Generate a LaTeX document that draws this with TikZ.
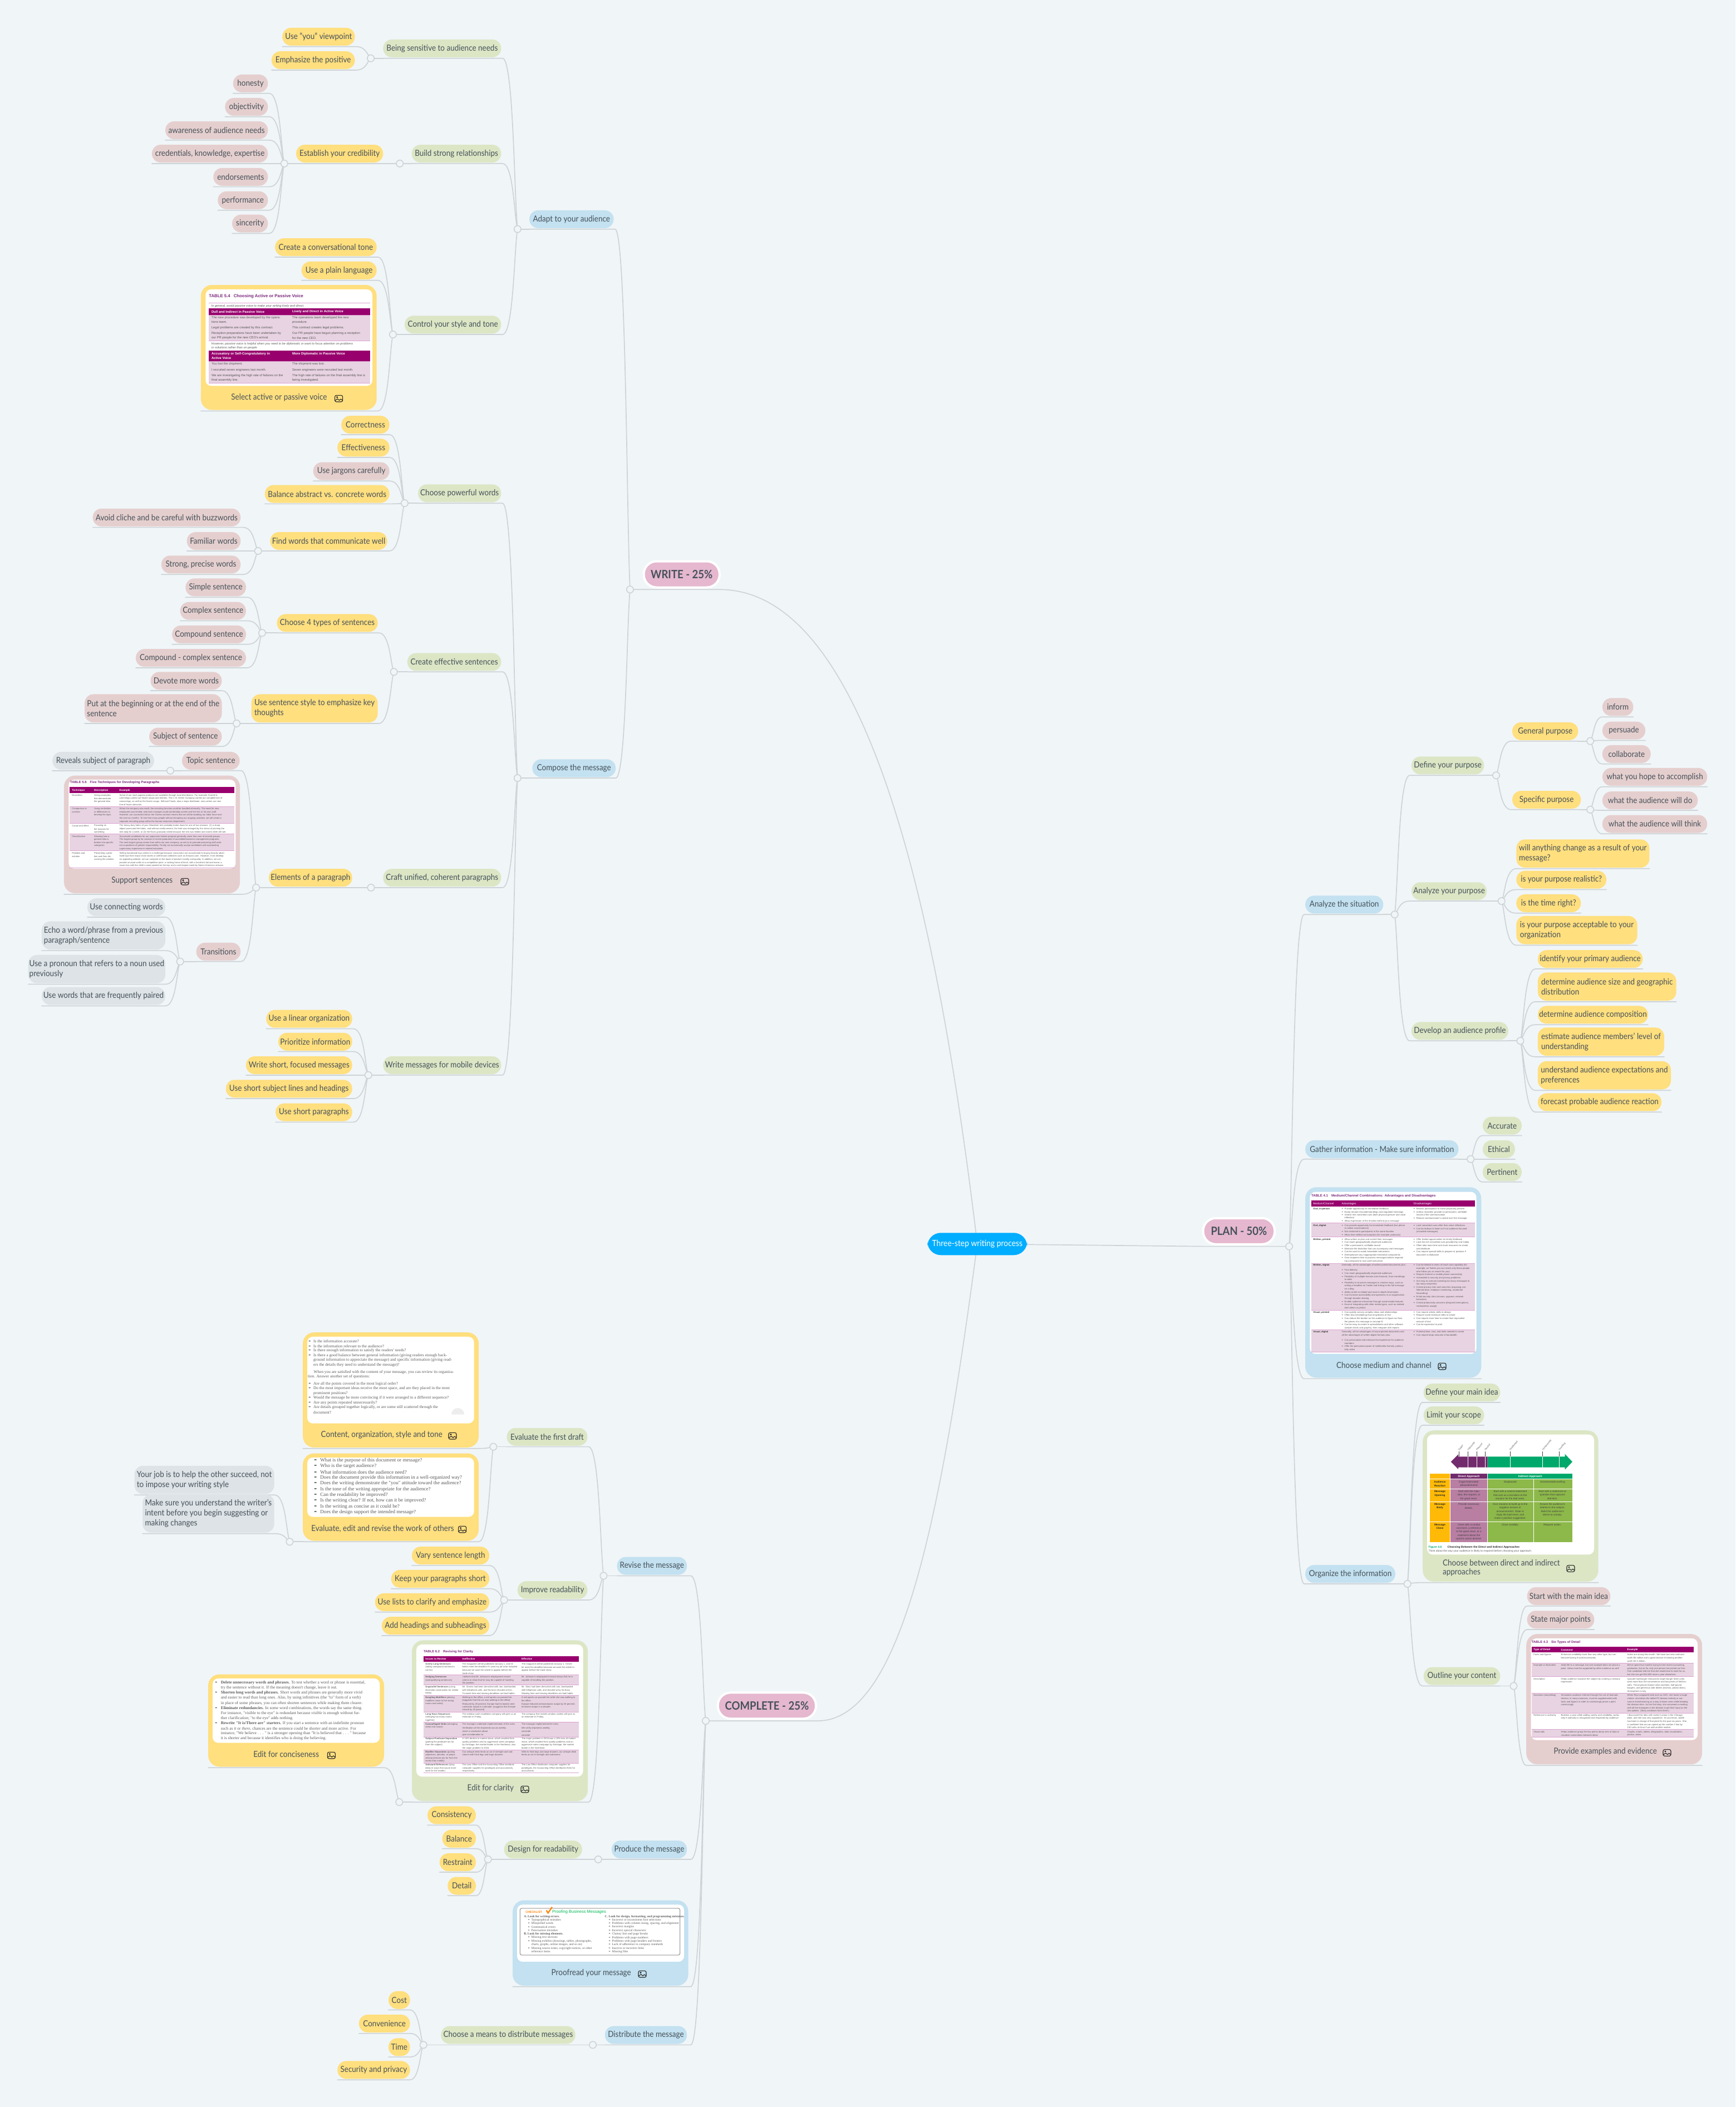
\documentclass[tikz,border=0pt]{standalone}
\usepackage{fontspec}
\usetikzlibrary{calc}
\setmainfont[FakeStretch=0.9]{Lato}
\newfontfamily\lsans{Liberation Sans}
\newfontfamily\lserif{Liberation Serif}
\definecolor{bgc}{HTML}{F0F5F8}
\definecolor{yel}{HTML}{FFDF7E}
\definecolor{grn}{HTML}{DCE6C5}
\definecolor{blu}{HTML}{C3E1F0}
\definecolor{ros}{HTML}{E5CFCE}
\definecolor{gry}{HTML}{DDE3E6}
\definecolor{tpk}{HTML}{E5B8CF}
\definecolor{rootc}{HTML}{00ADFF}
\definecolor{lnc}{HTML}{CDD3D6}
\definecolor{ink}{HTML}{46515A}
\definecolor{mag}{HTML}{98006D}
\definecolor{prow}{HTML}{E8D3E2}
\definecolor{pln}{HTML}{D9A3CE}
\definecolor{ttl}{HTML}{7D2A7E}
\definecolor{txg}{HTML}{5A5A5A}
\definecolor{vio}{HTML}{722B6C}
\definecolor{gn1}{HTML}{00A86B}
\definecolor{gn2}{HTML}{8DB84A}
\definecolor{org}{HTML}{FFBA08}
\definecolor{dpk}{HTML}{B87FA3}
\pgfdeclarelayer{bgr}\pgfdeclarelayer{lines}\pgfsetlayers{bgr,lines,main}
\newcount\tc
\def\tbf{\lsans\fontsize{2}{2.4}\selectfont}
\newdimen\bw \bw=2.5pt
\def\bb{\makebox[\bw][l]{\textbullet\kern-.15em\textbullet}}
\def\nb{\makebox[\bw][l]{}}
\tikzset{
 pill/.style={rectangle,rounded corners=7.9pt,inner sep=0pt,outer sep=0pt,text=ink,align=left,
   font=\fontsize{7.5}{9}\selectfont},
 toppill/.style={rectangle,rounded corners=11.5pt,inner sep=0pt,fill=tpk,draw=white,line width=2pt,text=ink,
   font=\fontsize{10.3}{12}\selectfont\bfseries,minimum height=23.5pt},
 cardst/.style={rectangle,rounded corners=10pt,inner sep=0pt,outer sep=0pt},
 jun/.style={circle,draw=lnc,fill=bgc,line width=.8pt,minimum size=6.2pt,inner sep=0pt},
 conn/.style={draw=lnc,line width=.85pt,line cap=round},
 tt/.style={inner sep=0pt,anchor=west,text=txg},
 wbox/.style={fill=white,rounded corners=5pt},
 zz/.style 2 args={shift={({#1*0.5pt},{-#2*0.5pt})},x=0.166667pt,y=-0.166667pt},
 capt/.style={inner sep=0pt,anchor=west,text=ink,align=left,font=\fontsize{7.5}{8.35}\selectfont},
}
\newcommand\pl[7][13.25]{%
 \node[pill,fill=#3,minimum width={(#5-#4)*1.2076pt},minimum height={#1*1.2076pt}] (#2) at ({(#4+#5)/2},#6) {#7};
 \coordinate (#2ul) at ([yshift=-.9pt]#2.south west);
 \coordinate (#2ur) at ([yshift=-.9pt]#2.south east);}
\newcommand\plt[5]{%
 \node[toppill,minimum width={(#3-#2)*1.2076pt}] (#1) at ({(#2+#3)/2},#4) {#5};
 \coordinate (#1ul) at ([yshift=-.9pt]#1.south west);
 \coordinate (#1ur) at ([yshift=-.9pt]#1.south east);}
\newcommand\cardn[6]{%
 \node[cardst,fill=#2,minimum width={(#5-#3)*1.2076pt},minimum height={(#6-#4)*1.2076pt}] (#1) at ({(#3+#5)/2},{(#4+#6)/2}) {};
 \coordinate (#1ul) at ([yshift=-.9pt]#1.south west);
 \coordinate (#1ur) at ([yshift=-.9pt]#1.south east);}
\newcommand\jn[3]{\node[jun] (#1) at (#2,0 |- #3ur) {};}
\newcommand\cL[2]{\draw[conn] let \p1=(#1ur),\p2=(#2) in (#1ul) -- (\p1) -- ({max(\x1,\x2-13.5pt)},\y1) .. controls (\x2-3.5pt,\y1) and (\x2-3pt,{\y1+0.82*(\y2-\y1)}) .. (\p2);}
\newcommand\cR[2]{\draw[conn] let \p1=(#1ul),\p2=(#2) in (#1ur) -- (\p1) -- ({min(\x1,\x2+13.5pt)},\y1) .. controls (\x2+3.5pt,\y1) and (\x2+3pt,{\y1+0.82*(\y2-\y1)}) .. (\p2);}
\newcommand\tl[4][]{\global\advance\tc 1 \node[tt,#1] (t\the\tc) at (#2,#3) {\tbf #4};}
\newcommand\Col[2]{\foreach \yy/\ttt in {#2}{\tl{#1}{\yy}{\ttt}}}
\newcommand\CCol[2]{\foreach \yy/\ttt in {#2}{\tl[anchor=center]{#1}{\yy}{\ttt}}}
\newcommand\lab[3]{\global\advance\tc 1 \node[capt] (t\the\tc) at (#1,#2) {#3};}
\newcommand\ico[2]{%
 \draw[black!85,line width=.55pt,rounded corners=1.4pt] (#1-21,#2-17) rectangle (#1+21,#2+18);
 \fill[black!85] (#1-9,#2-7) circle[radius=.85pt];
 \draw[black!85,line width=.55pt,line join=round] (#1-21,#2+12) -- (#1-7,#2+2) -- (#1+3,#2+10) -- (#1+11,#2+3) -- (#1+21,#2+11);}
\newcommand\prw[4]{\fill[prow] (#1,#3) rectangle (#2,#4);\draw[pln,line width=.35pt] (#1,#3) -- (#2,#3) (#1,#4) -- (#2,#4);}
\begin{document}
\begin{tikzpicture}[x=1.2076pt,y=-1.2076pt]
\useasboundingbox (0,0) rectangle (1291.1,1567.6);
\begin{pgfonlayer}{bgr}\fill[bgc] (0,0) rectangle (1291.1,1567.6);\end{pgfonlayer}

%% ROOT AND MAIN
\node[rectangle,rounded corners=12pt,inner sep=0pt,outer sep=0pt,fill=rootc,text=white,minimum width=89.5pt,minimum height=20pt,font=\fontsize{7.7}{10}\selectfont] (root) at (727,925.5) {Three-step writing process};
\plt{write}{478.9}{535.3}{427.3}{WRITE - 25\%}
\plt{plan}{895}{948.3}{916}{PLAN - 50\%}
\plt{complete}{534}{607}{1269}{COMPLETE - 25\%}
\jn{jW}{468.7}{write}
\jn{jP}{959}{plan}
\jn{jC}{525}{complete}

%% WRITE: ADAPT
\pl{adapt}{blu}{393.8}{456.5}{163.1}{Adapt to your audience}
\jn{jAd}{385}{adapt}
\pl{being}{grn}{285}{372.8}{36}{Being sensitive to audience needs}
\jn{jBe}{275.8}{being}
\pl{a1}{yel}{210}{264}{27.3}{Use "you" viewpoint}
\pl{a2}{yel}{202}{264}{44.8}{Emphasize the positive}
\pl{build}{grn}{306.3}{372.8}{114.3}{Build strong relationships}
\jn{jBu}{297.4}{build}
\pl{cred}{yel}{220.3}{285}{114.3}{Establish your credibility}
\jn{jCr}{211.5}{cred}
\pl{c1}{ros}{173.4}{199.3}{62.1}{honesty}
\pl{c2}{ros}{167.4}{199.3}{79.5}{objectivity}
\pl{c3}{ros}{123}{199.3}{96.9}{awareness of audience needs}
\pl{c4}{ros}{113}{199.3}{114.3}{credentials, knowledge, expertise}
\pl{c5}{ros}{158.7}{199.3}{131.6}{endorsements}
\pl{c6}{ros}{162}{199.3}{149}{performance}
\pl{c7}{ros}{172.7}{199.3}{166.3}{sincerity}
\pl{control}{grn}{301}{372.8}{241.5}{Control your style and tone}
\jn{jCt}{292.3}{control}
\pl{d1}{yel}{204.6}{280.2}{183.9}{Create a conversational tone}
\pl{d2}{yel}{224.3}{280.2}{201.2}{Use a plain language}
\cardn{selc}{yel}{149.4}{212}{280.2}{305}

%% WRITE: COMPOSE
\pl{compose}{blu}{396}{458}{571.5}{Compose the message}
\jn{jCo}{385}{compose}
\pl{power}{grn}{311}{372.8}{367}{Choose powerful words}
\jn{jPo}{301}{power}
\pl{e1}{yel}{253.9}{289.7}{316}{Correctness}
\pl{e2}{yel}{251}{289.7}{333}{Effectiveness}
\pl{e3}{ros}{233}{289.7}{350.5}{Use jargons carefully}
\pl{e4}{yel}{197}{289.7}{367.5}{Balance abstract vs. concrete words}
\pl{find}{yel}{201}{288}{402.5}{Find words that communicate well}
\jn{jFi}{192}{find}
\pl{f1}{ros}{69}{179}{385}{Avoid cliche and be careful with buzzwords}
\pl{f2}{ros}{139}{179}{402.5}{Familiar words}
\pl{f3}{ros}{120}{179}{420}{Strong, precise words}
\pl{effect}{grn}{303}{372.8}{492.5}{Create effective sentences}
\jn{jEf}{293}{effect}
\pl{four}{yel}{206}{281}{463.5}{Choose 4 types of sentences}
\jn{jFo}{195}{four}
\pl{g1}{ros}{138}{183}{437}{Simple sentence}
\pl{g2}{ros}{134}{183}{454.5}{Complex sentence}
\pl{g3}{ros}{128}{183}{472}{Compound sentence}
\pl{g4}{ros}{101}{183}{489.5}{Compound - complex sentence}
\pl[21]{stylen}{yel}{187}{281}{527}{Use sentence style to emphasize key\\thoughts}
\jn{jSt}{176}{stylen}
\pl{h1}{ros}{112}{165}{506.5}{Devote more words}
\pl[21]{h2}{ros}{63}{165}{527}{Put at the beginning or at the end of the\\sentence}
\pl{h3}{ros}{111}{165}{548}{Subject of sentence}
\pl{craft}{grn}{285}{372.8}{653}{Craft unified, coherent paragraphs}
\jn{jCf}{276}{craft}
\pl{elem}{yel}{200}{262}{653}{Elements of a paragraph}
\jn{jEl}{190.5}{elem}
\pl{topic}{ros}{135.4}{178.3}{566}{Topic sentence}
\jn{jTo}{126.7}{topic}
\pl{reveal}{gry}{39}{114.6}{566}{Reveals subject of paragraph}
\cardn{supc}{ros}{47.6}{577}{178.5}{664.6}
\pl{trans}{ros}{146}{179}{708}{Transitions}
\jn{jTr}{134}{trans}
\pl{k1}{gry}{65}{123}{675}{Use connecting words}
\pl[21]{k2}{gry}{31}{123}{696}{Echo a word/phrase from a previous\\paragraph/sentence}
\pl[21]{k3}{gry}{21}{123}{721}{Use a pronoun that refers to a noun used\\previously}
\pl{k4}{gry}{31}{123}{741}{Use words that are frequently paired}
\pl{mobile}{grn}{285}{372.8}{792.5}{Write messages for mobile devices}
\jn{jMo}{274}{mobile}
\pl{m1}{yel}{198}{262}{758}{Use a linear organization}
\pl{m2}{yel}{207}{262}{775}{Prioritize information}
\pl{m3}{yel}{183}{262}{792.5}{Write short, focused messages}
\pl{m4}{yel}{168}{262}{810}{Use short subject lines and headings}
\pl{m5}{yel}{205}{262}{827.5}{Use short paragraphs}

%% COMPLETE
\pl{revise}{blu}{459}{511}{1165}{Revise the message}
\jn{jRe}{449}{revise}
\pl{first}{grn}{377}{437}{1069}{Evaluate the first draft}
\jn{jFd}{367}{first}
\cardn{contc}{yel}{225.3}{991.3}{356.1}{1076.9}
\cardn{evalc}{yel}{225.3}{1081.3}{356.1}{1146.3}
\jn{jEv}{215.5}{evalc}
\pl[21]{n1}{gry}{100}{204}{1101}{Your job is to help the other succeed, not\\to impose your writing style}
\pl[28.5]{n2}{gry}{106}{204}{1126}{Make sure you understand the writer's\\intent before you begin suggesting or\\making changes}
\pl{improve}{grn}{385}{437}{1183}{Improve readability}
\jn{jIm}{375}{improve}
\pl{o1}{yel}{306.4}{364}{1157.3}{Vary sentence length}
\pl{o2}{yel}{291}{364}{1174.6}{Keep your paragraphs short}
\pl{o3}{yel}{279}{364}{1192}{Use lists to clarify and emphasize}
\pl{o4}{yel}{284}{364}{1209.5}{Add headings and subheadings}
\cardn{clarc}{grn}{306.4}{1220.4}{437.3}{1340}
\jn{jCl}{297}{clarc}
\cardn{concc}{yel}{154.9}{1245.7}{285.7}{1314.4}
\pl{produce}{blu}{455}{511}{1376}{Produce the message}
\jn{jPr}{445}{produce}
\pl{design}{grn}{375}{433}{1376}{Design for readability}
\jn{jDe}{363}{design}
\pl{p1}{yel}{318}{354}{1350.5}{Consistency}
\pl{p2}{yel}{329}{354}{1368}{Balance}
\pl{p3}{yel}{327}{354}{1385.5}{Restraint}
\pl{p4}{yel}{333}{354}{1403}{Detail}
\cardn{proofc}{blu}{381.4}{1413.8}{512}{1477.3}
\pl{distr}{blu}{450}{511}{1514}{Distribute the message}
\jn{jDi}{441}{distr}
\pl{means}{grn}{328}{428}{1514}{Choose a means to distribute messages}
\jn{jMe}{315}{means}
\pl{q1}{yel}{289}{305}{1488}{Cost}
\pl{q2}{yel}{267}{305}{1505.5}{Convenience}
\pl{q3}{yel}{289}{305}{1523}{Time}
\pl{q4}{yel}{251}{305}{1540}{Security and privacy}

%% PLAN
\pl{analyze}{blu}{971}{1029}{673}{Analyze the situation}
\jn{jAn}{1037.5}{analyze}
\pl{defp}{grn}{1050}{1104}{569.5}{Define your purpose}
\jn{jDf}{1113}{defp}
\pl{genp}{yel}{1125}{1174}{544}{General purpose}
\jn{jGe}{1183}{genp}
\pl{r1}{ros}{1192}{1215}{526}{inform}
\pl{r2}{ros}{1192}{1224}{543.5}{persuade}
\pl{r3}{ros}{1192}{1228}{561}{collaborate}
\pl{spec}{yel}{1125}{1176}{595}{Specific purpose}
\jn{jSp}{1183}{spec}
\pl{s1}{ros}{1192}{1270}{578}{what you hope to accomplish}
\pl{s2}{ros}{1192}{1263}{595.5}{what the audience will do}
\pl{s3}{ros}{1192}{1270}{613}{what the audience will think}
\pl{apurp}{grn}{1050}{1106}{663}{Analyze your purpose}
\jn{jAp}{1117}{apurp}
\pl[21]{u1}{yel}{1128}{1227}{635}{will anything change as a result of your\\message?}
\pl{u2}{yel}{1128}{1195}{654.5}{is your purpose realistic?}
\pl{u3}{yel}{1128}{1176}{672}{is the time right?}
\pl[21]{u4}{yel}{1128}{1218}{692}{is your purpose acceptable to your\\organization}
\pl{devp}{grn}{1050}{1122}{767}{Develop an audience profile}
\jn{jDv}{1131}{devp}
\pl{v1}{yel}{1144}{1222}{713.5}{identify your primary audience}
\pl[21]{v2}{yel}{1144}{1247}{734}{determine audience size and geographic\\distribution}
\pl{v3}{yel}{1144}{1226}{755}{determine audience composition}
\pl[21]{v4}{yel}{1144}{1238}{775}{estimate audience members' level of\\understanding}
\pl[21]{v5}{yel}{1144}{1243}{800}{understand audience expectations and\\preferences}
\pl{v6}{yel}{1144}{1236}{820}{forecast probable audience reaction}
\pl{gather}{blu}{971}{1085}{855}{Gather information - Make sure information}
\jn{jGa}{1094}{gather}
\pl{w1}{grn}{1103}{1132}{837.5}{Accurate}
\pl{w2}{grn}{1103}{1127}{855}{Ethical}
\pl{w3}{grn}{1103}{1132}{872}{Pertinent}
\cardn{medc}{blu}{971}{883.3}{1101.9}{1025}
\pl{organize}{blu}{971}{1038}{1171}{Organize the information}
\jn{jOr}{1047}{organize}
\pl{x1}{grn}{1059}{1116}{1036}{Define your main idea}
\pl{x2}{grn}{1059}{1104}{1053}{Limit your scope}
\cardn{dirc}{grn}{1058.4}{1064.2}{1189}{1176.7}
\pl{outl}{grn}{1059}{1116}{1247}{Outline your content}
\jn{jOu}{1126}{outl}
\pl{y1}{ros}{1136}{1198}{1187.5}{Start with the main idea}
\pl{y2}{ros}{1136}{1186}{1205}{State major points}
\cardn{provc}{ros}{1135.4}{1215.7}{1266.2}{1312.7}

%% CONNECTORS
\begin{pgfonlayer}{lines}
\draw[conn] (jW) -- (writeul) -- (writeur) .. controls (650,440) and (700,700) .. (root.center);
\draw[conn] (jC) -- (completeul) -- (completeur) .. controls (670,1281) and (700,1130) .. (root.center);
\draw[conn] (root.center) -- (planul) -- (planur) -- (jP);
\foreach \c in {adapt,compose}{\cL{\c}{jW}}
\foreach \c in {being,build,control}{\cL{\c}{jAd}}
\draw[conn] (jAd) -- (adaptul); \draw[conn] (jCo) -- (composeul);
\draw[conn] (jBe) -- (beingul); \draw[conn] (jBu) -- (buildul); \draw[conn] (jCt) -- (controlul);
\foreach \c in {a1,a2}{\cL{\c}{jBe}}
\cL{cred}{jBu}\draw[conn] (jCr) -- (credul);
\foreach \c in {c1,c2,c3,c4,c5,c6,c7}{\cL{\c}{jCr}}
\foreach \c in {d1,d2,selc}{\cL{\c}{jCt}}
\foreach \c in {power,effect,craft,mobile}{\cL{\c}{jCo}}
\draw[conn] (jPo) -- (powerul); \draw[conn] (jEf) -- (effectul); \draw[conn] (jCf) -- (craftul); \draw[conn] (jMo) -- (mobileul);
\foreach \c in {e1,e2,e3,e4,find}{\cL{\c}{jPo}}
\draw[conn] (jFi) -- (findul);
\foreach \c in {f1,f2,f3}{\cL{\c}{jFi}}
\foreach \c in {four,stylen}{\cL{\c}{jEf}}
\draw[conn] (jFo) -- (fourul); \draw[conn] (jSt) -- (stylenul);
\foreach \c in {g1,g2,g3,g4}{\cL{\c}{jFo}}
\foreach \c in {h1,h2,h3}{\cL{\c}{jSt}}
\cL{elem}{jCf}\draw[conn] (jEl) -- (elemul);
\foreach \c in {topic,supc,trans}{\cL{\c}{jEl}}
\draw[conn] (jTo) -- (topicul); \draw[conn] (jTr) -- (transul);
\cL{reveal}{jTo}
\foreach \c in {k1,k2,k3,k4}{\cL{\c}{jTr}}
\foreach \c in {m1,m2,m3,m4,m5}{\cL{\c}{jMo}}
\foreach \c in {revise,produce,proofc,distr}{\cL{\c}{jC}}
\draw[conn] (jRe) -- (reviseul); \draw[conn] (jPr) -- (produceul); \draw[conn] (jDi) -- (distrul);
\foreach \c in {first,improve,clarc}{\cL{\c}{jRe}}
\draw[conn] (jFd) -- (firstul); \draw[conn] (jIm) -- (improveul); \draw[conn] (jCl) -- (clarcul);
\foreach \c in {contc,evalc}{\cL{\c}{jFd}}
\draw[conn] (jEv) -- (evalcul);
\foreach \c in {n1,n2}{\cL{\c}{jEv}}
\foreach \c in {o1,o2,o3,o4}{\cL{\c}{jIm}}
\cL{concc}{jCl}
\cL{design}{jPr}\draw[conn] (jDe) -- (designul);
\foreach \c in {p1,p2,p3,p4}{\cL{\c}{jDe}}
\cL{means}{jDi}\draw[conn] (jMe) -- (meansul);
\foreach \c in {q1,q2,q3,q4}{\cL{\c}{jMe}}
\foreach \c in {analyze,gather,medc,organize}{\cR{\c}{jP}}
\draw[conn] (jAn) -- (analyzeur); \draw[conn] (jGa) -- (gatherur); \draw[conn] (jOr) -- (organizeur);
\foreach \c in {defp,apurp,devp}{\cR{\c}{jAn}}
\draw[conn] (jDf) -- (defpur); \draw[conn] (jAp) -- (apurpur); \draw[conn] (jDv) -- (devpur);
\foreach \c in {genp,spec}{\cR{\c}{jDf}}
\draw[conn] (jGe) -- (genpur); \draw[conn] (jSp) -- (specur);
\foreach \c in {r1,r2,r3}{\cR{\c}{jGe}}
\foreach \c in {s1,s2,s3}{\cR{\c}{jSp}}
\foreach \c in {u1,u2,u3,u4}{\cR{\c}{jAp}}
\foreach \c in {v1,v2,v3,v4,v5,v6}{\cR{\c}{jDv}}
\foreach \c in {w1,w2,w3}{\cR{\c}{jGa}}
\foreach \c in {x1,x2,dirc,outl}{\cR{\c}{jOr}}
\draw[conn] (jOu) -- (outlur);
\foreach \c in {y1,y2,provc}{\cR{\c}{jOu}}
\end{pgfonlayer}

%% TABLE 5.4
\begin{scope}[zz={340}{500}]
\fill[wbox] (88,60) rectangle (987,580);
\lab{225}{643}{Select active or passive voice}\ico{806}{648}
\def\tbf{\lsans\fontsize{3.9}{4.5}\selectfont\bfseries}
\tl[text=ttl]{105}{97}{TABLE 5.4\hspace{3pt}Choosing Active or Passive Voice}
\draw[pln,line width=.35pt] (105,132) -- (975,132);
\def\tbf{\lsans\fontsize{2.75}{3.3}\selectfont\itshape}
\Col{118}{149/{In general, avoid passive voice to make your writing lively and direct.},354/{However, passive voice is helpful when you need to be diplomatic or want to focus attention on problems},376/{or solutions rather than on people.}}
\prw{105}{975}{198}{338}\prw{105}{975}{447}{565}
\fill[mag] (105,163) rectangle (975,198);\fill[mag] (105,391) rectangle (975,447);
\def\tbf{\lsans\fontsize{3}{3.6}\selectfont\bfseries\color{white}}
\Col{119}{181/{Dull and Indirect in Passive Voice},409/{Accusatory or Self-Congratulatory in},431/{Active Voice}}
\Col{554}{181/{Lively and Direct in Active Voice},409/{More Diplomatic in Passive Voice}}
\def\tbf{\lsans\fontsize{2.85}{3.4}\selectfont}
\Col{119}{212/{The new procedure was developed by the opera-},236/{tions team.},267/{Legal problems are created by this contract.},298/{Reception preparations have been undertaken by},321/{our PR people for the new CEO's arrival.},463/{You lost the shipment.},495/{I recruited seven engineers last month.},526/{We are investigating the high rate of failures on the},549/{final assembly line.}}
\Col{554}{212/{The operations team developed the new},236/{procedure.},267/{This contract creates legal problems.},298/{Our PR people have begun planning a reception},321/{for the new CEO.},463/{The shipment was lost.},495/{Seven engineers were recruited last month.},526/{The high rate of failures on the final assembly line is},549/{being investigated.}}
\end{scope}

%% TABLE 5.6
\begin{scope}[zz={100}{1340}]
\fill[wbox] (70,183) rectangle (970,663);
\lab{300}{727}{Support sentences}\ico{696}{732}
\def\tbf{\lsans\fontsize{3}{3.6}\selectfont\bfseries}
\tl[text=ttl]{77}{197}{TABLE 5.6\hspace{3pt}Five Techniques for Developing Paragraphs}
\fill[mag] (76,222) rectangle (962,255);
\prw{76}{962}{328}{418}\prw{76}{962}{474}{564}\draw[pln,line width=.35pt] (76,658) -- (962,658);
\def\tbf{\lsans\fontsize{2.3}{2.8}\selectfont\bfseries\color{white}}
\tl{87}{240}{Technique}\tl{206}{240}{Description}\tl{343}{240}{Example}
\def\tbf{\lsans\fontsize{2.02}{2.4}\selectfont}
\Col{87}{267/{Illustration},340/{Comparison or},357/{contrast},431/{Cause and effect},489/{Classification},579/{Problem and},596/{solution}}
\Col{206}{267/{Giving examples},284/{that demonstrate},301/{the general idea},340/{Using similarities},357/{or differences to},374/{develop the topic},431/{Focusing on},449/{the reasons for},466/{something},489/{Showing how a},506/{general idea is},522/{broken into specific},539/{categories},579/{Presenting a prob-},596/{lem and then dis-},612/{cussing the solution}}
\Col{343}{267/{Some of our most popular products are available through local distributors. For example, Everett \&},284/{Lemmings carries our frozen soups and entrees. The J. B. Green Company carries our complete line of},301/{seasonings, as well as the frozen soups. Wilmont Foods, also a major distributor, now carries our new},317/{line of frozen desserts.},340/{When the company was small, the recruiting function could be handled informally. The need for new},357/{employees was limited, and each manager could comfortably screen and hire her or his own staff.},374/{However, our successful bid on the Owens contract means that we will be doubling our labor force over},391/{the next six months. To hire that many people without disrupting our ongoing activities, we will create a},408/{separate recruiting group within the human resources department.},431/{The heavy-duty fabric of your Wanderer tent probably broke down for one of two reasons: (1) a sharp},449/{object punctured the fabric, and without reinforcement, the hole was enlarged by the stress of pitching the},466/{tent daily for a week, or (2) the floors gradually rotted because the tent was folded and stored while still wet.},489/{Successful candidates for our supervisor trainee program generally come from one of several groups.},506/{The largest group by far consists of recent graduates of accredited business management programs.},522/{The next largest group comes from within our own company, as we try to promote promising staff work-},539/{ers to positions of greater responsibility. Finally, we occasionally accept candidates with outstanding},555/{supervisory experience in related industries.},579/{Selling handmade toys online is a challenge because consumers are accustomed to buying heavily adver-},596/{tised toys from major chain stores or well-known websites such as Amazon.com. However, if we develop},612/{an appealing website, we can compete on the basis of product novelty and quality. In addition, we can},630/{provide unusual crafts at a competitive price: a rocking horse of birch, with a hand-knit tail and mane; a},647/{music box with the child's name painted on the top; and a real teepee made by Native American artisans.}}
\end{scope}

%% TABLE 4.1
\begin{scope}[zz={2330}{2130}]
\fill[wbox] (70,35) rectangle (968,908);
\lab{212}{970}{Choose medium and channel}\ico{783}{975}
\def\tbf{\lsans\fontsize{3.05}{3.6}\selectfont\bfseries}
\tl[text=ttl]{77}{58}{TABLE 4.1\hspace{3pt}Medium/Channel Combinations: Advantages and Disadvantages}
\fill[mag] (77,82) rectangle (960,115);
\prw{77}{960}{202}{278}\prw{77}{960}{420}{672}\prw{77}{960}{778}{898}
\def\tbf{\lsans\fontsize{2.45}{3}\selectfont\color{white}}
\tl{87}{99}{Medium/Channel}\tl{241}{99}{Advantages}\tl{628}{99}{Disadvantages}
\def\tbf{\lsans\fontsize{2.1}{2.5}\selectfont\bfseries\color{black!80}}
\Col{87}{127/{Oral, in-person},217/{Oral, digital},291/{Written, printed},431/{Written, digital},685/{Visual, printed},791/{Visual, digital}}
\def\tbf{\lsans\fontsize{2.05}{2.5}\selectfont}
\Col{241}{127/{\bb Provide opportunity for immediate feedback},144/{\bb Easily resolve misunderstandings and negotiate meanings},160/{\bb Involve rich nonverbal cues (both physical gesture and vocal},176/{\nb inflection)},193/{\bb Allow expression of the emotion behind your message},217/{\bb Can provide opportunity for immediate feedback (live phone},233/{\nb or online conversations)},250/{\bb Not restricted to participants in the same location},267/{\bb Allow time-shifted consumption (for example, podcasts)},291/{\bb Allow writers to plan and control their messages},308/{\bb Can reach geographically dispersed audiences},325/{\bb Offer a permanent, verifiable record},342/{\bb Minimize the distortion that can accompany oral messages},358/{\bb Can be used to avoid immediate interactions},375/{\bb Deemphasize any inappropriate emotional components},392/{\bb Give recipients time to process messages before respond-},409/{\nb ing (compared to oral communication)},431/{Generally, all the advantages of written printed documents plus:},458/{\bb Fast delivery},475/{\bb Can reach geographically dispersed audiences},492/{\bb Flexibility of multiple formats and channels, from microblogs},508/{\nb to wikis},525/{\bb Flexibility to structure messages in creative ways, such as},542/{\nb writing a headline on Twitter and linking to the full message},559/{\nb on a blog},576/{\bb Ability to link to related and more in-depth information},593/{\bb Can increase accessibility and openness in an organization},610/{\nb through broader sharing},627/{\bb Enable audience interaction through social media features},644/{\bb Ease of integrating with other media types, such as embed-},661/{\nb ded videos or photos},685/{\bb Can quickly convey complex ideas and relationships},701/{\bb Often less intimidating than long blocks of text},718/{\bb Can reduce the burden on the audience to figure out how},735/{\nb the pieces of a message or concept fit},751/{\bb Can be easy to create in spreadsheets and other software},769/{\nb (simple charts and graphs), then integrate with reports},791/{Generally, all the advantages of visual printed documents and},808/{all the advantages of written digital formats plus:},835/{\bb Can personalize and enhance the experience for audience},852/{\nb members},869/{\bb Offer the persuasive power of multimedia formats, particu-},886/{\nb larly video}}
\Col{628}{127/{\bb Restrict participation to those physically present},144/{\bb Unless recorded, provide no permanent, verifiable},160/{\nb record of the communication},177/{\bb Reduce communicator's control over the message},217/{\bb Lack nonverbal cues other than voice inflections},233/{\bb Can be tedious to listen to if not audience focused},250/{\nb (recorded messages)},291/{\bb Offer limited opportunities for timely feedback},308/{\bb Lack the rich nonverbal cues provided by oral media},325/{\bb Often take more time and more resources to create},342/{\nb and distribute},358/{\bb Can require special skills to prepare or produce if},375/{\nb document is elaborate},431/{\bb Can be limited in terms of reach and capability (for},448/{\nb example, on Twitter you can reach only those people},465/{\nb who follow you or search for you)},482/{\bb Require Internet or mobile phone connectivity},499/{\bb Vulnerable to security and privacy problems},516/{\bb Are easy to overuse (sending too many messages to},533/{\nb too many recipients)},550/{\bb Create privacy risks and concerns (exposing con-},566/{\nb fidential data, employer monitoring, accidental},583/{\nb forwarding)},600/{\bb Entail security risks (viruses, spyware, network},617/{\nb breaches)},634/{\bb Create productivity concerns (frequent interruptions,},651/{\nb nonbusiness usage)},685/{\bb Can require artistic skills to design},701/{\bb Require some technical skills to create},718/{\bb Can require more time to create than equivalent},735/{\nb amount of text},751/{\bb Can be expensive to print},791/{\bb Potential time, cost, and skills needed to create},808/{\bb Can require large amounts of bandwidth}}
\end{scope}

%% FIGURE 4.6
\begin{scope}[zz={2540}{2560}]
\fill[wbox] (72,53) rectangle (972,700);
\lab{155}{772}{Choose between direct and indirect\\approaches}
\ico{846}{775}
\fill[vio] (200,200) -- (240,160) -- (240,172) -- (398,172) -- (398,230) -- (240,230) -- (240,240) -- cycle;
\fill[gn1] (398,172) -- (815,172) -- (815,158) -- (855,200) -- (815,242) -- (815,230) -- (398,230) -- cycle;
\foreach \xx in {293,340,385,520,695,785}{\draw[white,line width=.35pt] (\xx,172) -- (\xx,230);}
\foreach \xx in {245,293,340,385,520,695,785}{\draw[black!75,line width=.35pt] (\xx,145) -- (\xx,172);}
\def\tbf{\lsans\fontsize{2.1}{2.5}\selectfont}
\tl[rotate=50]{243}{138}{Eager}\tl[rotate=50]{291}{138}{Interested}\tl[rotate=50]{338}{138}{Pleased}\tl[rotate=50]{383}{138}{Neutral}\tl[rotate=50]{518}{138}{Displeased}\tl[rotate=50]{693}{138}{Uninterested}\tl[rotate=50]{783}{138}{Unwilling}
\fill[org] (87,263) rectangle (195,632);
\fill[vio] (198,263) rectangle (395,290);
\fill[gn1] (398,263) rectangle (855,290);
\foreach \ra/\rb in {293/345,347/413,417/521,524/632}{
 \fill[dpk] (198,\ra) rectangle (395,\rb);
 \fill[gn2] (398,\ra) rectangle (644,\rb);
 \fill[gn2] (647,\ra) rectangle (855,\rb);
 \draw[white,line width=.25pt] (87,\ra-1) -- (195,\ra-1);}
\def\tbf{\lsans\fontsize{2.5}{3}\selectfont\bfseries\color{white}}
\tl[anchor=center]{297}{279}{Direct Approach}\tl[anchor=center]{628}{279}{Indirect Approach}
\def\tbf{\lsans\fontsize{2.35}{2.8}\selectfont\bfseries\color{black!85}}
\CCol{141}{309/{Audience},328/{Reaction},361/{Message},381/{Opening},430/{Message},449/{Body},540/{Message},558/{Close}}
\def\tbf{\lsans\fontsize{2.3}{2.8}\selectfont\color{black!75}}
\CCol{297}{309/{Eager/interested/},328/{pleased/neutral},361/{Start with the main},380/{idea, the request, or},399/{the good news.},430/{Provide necessary},449/{details.},540/{Close with a cordial},559/{comment, a reference},578/{to the good news, or a},597/{statement about the},616/{specific action desired.}}
\CCol{520}{309/{Displeased},361/{Start with a neutral statement},380/{that acts as a transition to the},399/{reasons for the bad news.},430/{Give reasons to build up to the},449/{negative answer or},468/{announcement. State or},487/{imply the bad news, and},506/{make a positive suggestion.},540/{Close cordially.}}
\CCol{748}{309/{Uninterested/unwilling},361/{Start with a statement or},380/{question that captures},399/{attention.},430/{Arouse the audience's},449/{interest in the subject.},468/{Build the audience's},487/{desire to comply.},540/{Request action.}}
\def\tbf{\lsans\fontsize{2.5}{3}\selectfont\bfseries}
\tl[text=gn1]{79}{661}{Figure 4.6}\tl[text=black!85]{181}{661}{Choosing Between the Direct and Indirect Approaches}
\def\tbf{\lsans\fontsize{2.42}{3}\selectfont}
\tl{79}{682}{Think about the way your audience is likely to respond before choosing your approach.}
\end{scope}

%% TABLE 4.3
\begin{scope}[zz={2720}{2920}]
\fill[wbox] (92,72) rectangle (990,620);
\lab{214}{683}{Provide examples and evidence}\ico{825}{688}
\def\tbf{\lsans\fontsize{2.95}{3.6}\selectfont\bfseries}
\tl[text=ttl]{95}{93}{TABLE 4.3\hspace{3pt}Six Types of Detail}
\fill[mag] (95,118) rectangle (968,148);
\prw{95}{968}{205}{278}\prw{95}{968}{367}{475}\prw{95}{968}{563}{605}
\def\tbf{\lsans\fontsize{2.3}{2.8}\selectfont\bfseries\color{white}}
\tl{105}{134}{Type of Detail}\tl{253}{134}{Comment}\tl{610}{134}{Example}
\def\tbf{\lsans\fontsize{2.05}{2.5}\selectfont}
\Col{105}{161/{Facts and figures},217/{Example or illustration},291/{Description},380/{Narration (storytelling)},487/{Reference to authority},577/{Visual aids}}
\Col{253}{161/{Enhances credibility more than any other type, but can},177/{become boring if used excessively},217/{Adds life to a message, but one example does not prove a},234/{point. Ideas must be supported by other evidence as well},291/{Helps audience visualize the subject by creating a sensory},307/{impression},380/{Stimulates audience interest through the use of dramatic},397/{tension; in many instances, must be supplemented with},414/{facts and figures in order to convincingly prove a point},430/{convincingly},487/{Bolsters a case while adding variety and credibility; works},503/{only if authority is recognized and respected by audience},577/{Helps audience grasp the key points about sets of data or},593/{visualize connections between ideas}}
\Col{610}{161/{Sales are strong this month. We have two new contracts},177/{worth \$5 million and a good chance of winning another},195/{worth \$2.5 million.},217/{We've spent four months trying to hire recent accounting},234/{graduates, but so far, only one person has joined our firm.},251/{One candidate told me that she would love to work for us,},267/{but she can get \$10,000 more a year elsewhere.},291/{Upscale hamburger restaurants target burger lovers who},307/{want more than the convenience and low prices of McDon-},324/{ald's. These places feature wine and beer, half-pound},341/{burgers, and generous side dishes (nachos, potato skins).},357/{Atmosphere is key.},380/{When Rita Longworth took over as CEO, she faced a tough},397/{choice: shut down the tablet PC division entirely or out-},414/{source manufacturing as a way to lower costs while keeping},431/{the division alive. As her first step, she convened a meeting},447/{with all the managers in the division to get their input on the},464/{two options. (Story continues from there.)},487/{I discussed this idea with Jackie Loman in the Chicago},503/{plant, and she was very supportive. As you know, Jackie},520/{has been in charge of that plant for the past six years. She},537/{is confident that we can speed up the number 2 line by},553/{150 units an hour if we add another worker.},577/{Graphs, charts, tables, infographics, data visualization,},593/{photos, video}}
\end{scope}

%% TABLE 6.2
\begin{scope}[zz={730}{2940}]
\fill[wbox] (54,45) rectangle (953,757);
\lab{328}{820}{Edit for clarity}\ico{639}{825}
\def\tbf{\lsans\fontsize{2.95}{3.6}\selectfont\bfseries}
\tl[text=ttl]{92}{85}{TABLE 6.2\hspace{3pt}Revising for Clarity}
\fill[mag] (92,108) rectangle (931,139);
\prw{92}{931}{208}{263}\prw{92}{931}{318}{410}\prw{92}{931}{462}{544}\prw{92}{931}{612}{684}\draw[pln,line width=.35pt] (92,737) -- (931,737);
\def\tbf{\lsans\fontsize{2.3}{2.8}\selectfont\bfseries\color{white}}
\tl{102}{124}{Issues to Review}\tl{301}{124}{Ineffective}\tl{620}{124}{Effective}
\def\tbf{\lsans\fontsize{2.05}{2.5}\selectfont}
\Col{102}{150/{\textbf{Overly Long Sentences}},166/{(taking compound sentences},183/{too far)},220/{\textbf{Hedging Sentences}},237/{(overqualifying sentences)},275/{\textbf{Unparallel Sentences} (using},291/{dissimilar construction for similar},308/{ideas)},331/{\textbf{Dangling Modifiers} (placing},348/{modifiers close to the wrong},364/{nouns and verbs)},421/{\textbf{Long Noun Sequences}},437/{(stringing too many nouns},453/{together)},475/{\textbf{Camouflaged Verbs} (changing},491/{verbs into nouns)},554/{\textbf{Subject-Predicate Separation}},570/{(putting the predicate too far},587/{from the subject)},624/{\textbf{Modifier Separation} (putting},641/{adjectives, adverbs, or prepo-},657/{sitional phrases too far from the},673/{words they modify)},695/{\textbf{Awkward References} (tying},711/{ideas in ways that cause more},727/{work for the reader)}}
\Col{301}{150/{The magazine will be published January 1, and I'd},167/{better meet the deadline if I want my ad to be included},183/{because we want the article to appear before the},200/{trade show.},220/{I believe that Mr. Johnson's employment record},237/{seems to show that he may be capable of handling},253/{the position.},275/{Mr. Simms had been drenched with rain, bombarded},291/{with telephone calls, and his boss shouted at him.},310/{To waste time and missing deadlines are bad habits.},331/{Walking to the office, a red sports car passed her.},347/{[suggests that the car was walking to the office]},366/{Reduced by 25 percent, Europe had its lowest semi-},382/{conductor output in a decade. [suggests that Europe},398/{shrank by 25 percent]},421/{The window sash installation company will give us an},437/{estimate on Friday.},475/{The manager undertook implementation of the rules.},495/{Verification of the shipments occurs weekly.},514/{reach a conclusion about},533/{give consideration to},554/{A 10\% decline in market share, which resulted from},570/{quality problems and an aggressive sales campaign},587/{by Armitage, the market leader in the Northeast, was},603/{the major problem in 2016.},624/{Our antique desk lends an air of strength and sub-},641/{stance with thick legs and large drawers.},695/{The Law Office and the Accounting Office distribute},711/{computer supplies for paralegals and accountants,},727/{respectively.}}
\Col{620}{150/{The magazine will be published January 1. I'd bet-},167/{ter meet the deadline because we want the article to},183/{appear before the trade show.},220/{Mr. Johnson's employment record shows that he is},237/{capable of handling the position.},275/{Mr. Sims had been drenched with rain, bombarded},291/{with telephone calls, and shouted at by his boss.},310/{Wasting time and missing deadlines are bad habits.},331/{A red sports car passed her while she was walking to},347/{the office.},366/{Europe reduced semiconductor output by 25 percent,},382/{its lowest output in a decade.},421/{The company that installs window sashes will give us},437/{an estimate on Friday.},475/{The manager implemented the rules.},495/{We verify shipments weekly.},514/{conclude},533/{consider},554/{The major problem in 2016 was a 10\% loss of market},570/{share, which resulted from quality problems and an},587/{aggressive sales campaign by Armitage, the market},603/{leader in the Northeast.},624/{With its thick legs and large drawers, our antique desk},641/{lends an air of strength and substance.},695/{The Law Office distributes computer supplies for},711/{paralegals; the Accounting Office distributes them for},727/{accountants.}}
\end{scope}

%% CONTENT / EVALUATE
\begin{scope}[zz={530}{2380}]
\fill[wbox] (66,66) rectangle (965,533);
\lab{139}{595}{Content, organization, style and tone}\ico{849}{600}
\def\tbf{\lserif\fontsize{3.65}{4.3}\selectfont}\bw=4.4pt
\Col{72}{90/{\bb Is the information accurate?},116/{\bb Is the information relevant to the audience?},141/{\bb Is there enough information to satisfy the readers' needs?},167/{\bb Is there a good balance between general information (giving readers enough back-},192/{\nb ground information to appreciate the message) and specific information (giving read-},218/{\nb ers the details they need to understand the message)?},320/{\bb Are all the points covered in the most logical order?},345/{\bb Do the most important ideas receive the most space, and are they placed in the most},371/{\nb prominent positions?},396/{\bb Would the message be more convincing if it were arranged in a different sequence?},422/{\bb Are any points repeated unnecessarily?},447/{\bb Are details grouped together logically, or are some still scattered through the},473/{\nb document?}}
\tl{100}{257}{When you are satisfied with the content of your message, you can review its organiza-}
\tl{68}{282}{tion. Answer another set of questions:}
\fill[gray!14] (843,485) arc[start angle=180,end angle=0,radius=5.8pt] -- cycle;
\fill[wbox] (66,717) rectangle (965,1037);
\lab{87}{1100}{Evaluate, edit and revise the work of others}\ico{902}{1104}
\def\tbf{\lserif\fontsize{4.55}{5.4}\selectfont}\bw=5.5pt
\Col{102}{733/{\bb What is the purpose of this document or message?},764/{\bb Who is the target audience?},795/{\bb What information does the audience need?},826/{\bb Does the document provide this information in a well-organized way?},857/{\bb Does the writing demonstrate the "you" attitude toward the audience?},888/{\bb Is the tone of the writing appropriate for the audience?},919/{\bb Can the readability be improved?},950/{\bb Is the writing clear? If not, how can it be improved?},981/{\bb Is the writing as concise as it could be?},1012/{\bb Does the design support the intended message?}}
\end{scope}

%% CONCISENESS
\begin{scope}[zz={370}{2990}]
\fill[wbox] (36,78) rectangle (937,425);
\lab{255}{487}{Edit for conciseness}\ico{676}{492}
\def\tbf{\lserif\fontsize{3.72}{4.3}\selectfont}\bw=5.2pt
\Col{48}{101/{\bb \textbf{Delete unnecessary words and phrases.} To test whether a word or phrase is essential,},128/{\nb try the sentence without it. If the meaning doesn't change, leave it out.},155/{\bb \textbf{Shorten long words and phrases.} Short words and phrases are generally more vivid},183/{\nb and easier to read than long ones. Also, by using infinitives (the "to" form of a verb)},211/{\nb in place of some phrases, you can often shorten sentences while making them clearer.},238/{\bb \textbf{Eliminate redundancies.} In some word combinations, the words say the same thing.},265/{\nb For instance, "visible to the eye" is redundant because \textit{visible} is enough without fur-},292/{\nb ther clarification; "to the eye" adds nothing.},320/{\bb \textbf{Rewrite "It is/There are" starters.} If you start a sentence with an indefinite pronoun},348/{\nb such as \textit{it} or \textit{there}, chances are the sentence could be shorter and more active. For},375/{\nb instance, "We believe . . . " is a stronger opening than "It is believed that . . . " because},402/{\nb it is shorter and because it identifies who is doing the believing.}}
\end{scope}

%% CHECKLIST
\begin{scope}[zz={910}{3400}]
\fill[wbox] (57,67) rectangle (957,375);
\lab{241}{437}{Proofread your message}\ico{732}{441}
\draw[gray!80!black,line width=.35pt,rounded corners=1.5pt] (73,87) rectangle (935,339);
\def\tbf{\lsans\fontsize{2.6}{3}\selectfont\bfseries}
\tl[text=orange]{102}{108}{CHECKLIST}
\draw[orange,line width=1.1pt] (215,98) -- (224,112) -- (246,80);
\def\tbf{\lsans\fontsize{3.75}{4.4}\selectfont}
\tl[text=gn1!80!green]{245}{108}{Proofing Business Messages}
\def\tbf{\lserif\fontsize{2.8}{3.3}\selectfont}\bw=2.9pt
\Col{93}{132/{\textbf{A. Look for writing errors.}},226/{\textbf{B. Look for missing elements.}}}
\Col{529}{132/{\textbf{C. Look for design, formatting, and programming mistakes.}}}
\Col{115}{150/{\bb Typographical mistakes},169/{\bb Misspelled words},188/{\bb Grammatical errors},207/{\bb Punctuation mistakes},245/{\bb Missing text sections},264/{\bb Missing exhibits (drawings, tables, photographs,},283/{\nb charts, graphs, online images, and so on)},302/{\bb Missing source notes, copyright notices, or other},320/{\nb reference items}}
\Col{550}{150/{\bb Incorrect or inconsistent font selections},169/{\bb Problems with column sizing, spacing, and alignment},188/{\bb Incorrect margins},207/{\bb Incorrect special characters},226/{\bb Clumsy line and page breaks},245/{\bb Problems with page numbers},264/{\bb Problems with page headers and footers},283/{\bb Lack of adherence to company standards},302/{\bb Inactive or incorrect links},320/{\bb Missing files}}
\end{scope}
\end{tikzpicture}
\end{document}
